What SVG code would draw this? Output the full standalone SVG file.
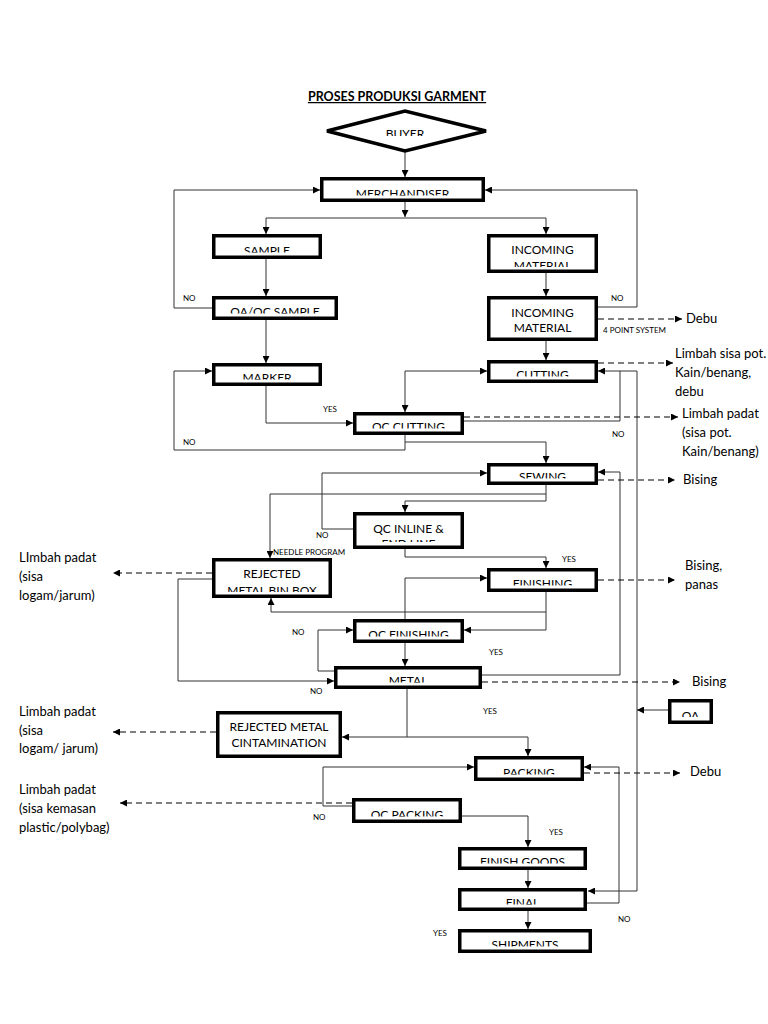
<svg xmlns="http://www.w3.org/2000/svg" width="768" height="1024" viewBox="0 0 768 1024">
<style>
.bx{fill:#fff;stroke:#000;stroke-width:3.5}
.t{font-family:Lato,"Open Sans","Liberation Sans",sans-serif;font-size:12px;fill:#000;text-anchor:middle}
.s{font-family:Lato,"Open Sans","Liberation Sans",sans-serif;font-size:8px;fill:#000}
.l{font-family:Lato,"Open Sans","Liberation Sans",sans-serif;font-size:13px;fill:#000}
.c{fill:none;stroke:#333;stroke-width:1}
.a{marker-end:url(#ah)}
.d{fill:none;stroke:#000;stroke-width:1.2;stroke-dasharray:6 4;marker-end:url(#ah)}
</style>
<defs>
<marker id="ah" viewBox="0 0 10 10" refX="10" refY="5" markerWidth="7" markerHeight="7" markerUnits="userSpaceOnUse" orient="auto-start-reverse"><path d="M0,0 L10,5 L0,10 z" fill="#000"/></marker>
<clipPath id="cBuyer"><rect x="320" y="105" width="170" height="31"/></clipPath>
<clipPath id="cMerch"><rect x="320" y="177" width="165" height="18.5"/></clipPath>
<clipPath id="cSample"><rect x="212" y="234" width="110" height="18.5"/></clipPath>
<clipPath id="cInc1"><rect x="487" y="234" width="111" height="33"/></clipPath>
<clipPath id="cQaqc"><rect x="212" y="296" width="126" height="17.5"/></clipPath>
<clipPath id="cMarker"><rect x="212" y="363" width="110" height="16.5"/></clipPath>
<clipPath id="cCutting"><rect x="487" y="360" width="111" height="16.5"/></clipPath>
<clipPath id="cQcCut"><rect x="353" y="412" width="111" height="16.5"/></clipPath>
<clipPath id="cSewing"><rect x="487" y="463" width="111" height="15.5"/></clipPath>
<clipPath id="cInline"><rect x="353" y="512" width="111" height="30"/></clipPath>
<clipPath id="cFinishing"><rect x="487" y="568" width="111" height="17.5"/></clipPath>
<clipPath id="cBin"><rect x="212" y="558" width="120" height="34"/></clipPath>
<clipPath id="cQcFin"><rect x="353" y="619" width="111" height="17.5"/></clipPath>
<clipPath id="cMetal"><rect x="334" y="666" width="148" height="16.5"/></clipPath>
<clipPath id="cQa"><rect x="668" y="699" width="45" height="18"/></clipPath>
<clipPath id="cPacking"><rect x="474" y="756" width="110" height="18.5"/></clipPath>
<clipPath id="cQcPack"><rect x="352" y="798" width="110" height="18.5"/></clipPath>
<clipPath id="cFG"><rect x="458" y="847" width="129" height="16.5"/></clipPath>
<clipPath id="cFinal"><rect x="458" y="888" width="129" height="16.5"/></clipPath>
<clipPath id="cShip"><rect x="458" y="929" width="134" height="17.5"/></clipPath>
</defs>
<rect width="768" height="1024" fill="#fff"/>

<text x="397" y="101" font-family="Lato,'Open Sans','Liberation Sans',sans-serif" font-size="12.5" font-weight="bold" text-anchor="middle" text-decoration="underline">PROSES PRODUKSI GARMENT </text>

<g id="connectors">
<path class="c a" d="M405,152 V177"/>
<path class="c a" d="M405,202 V217"/>
<path class="c" d="M266,218 H546"/>
<path class="c a" d="M266,218 V234"/>
<path class="c a" d="M546,218 V234"/>
<path class="c a" d="M266,259 V296"/>
<path class="c a" d="M212,308 H174 V190 H320"/>
<path class="c a" d="M546,273 V296"/>
<path class="c a" d="M598,307 H637 V190 H485"/>
<path class="c a" d="M266,320 V363"/>
<path class="c a" d="M546,341 V360"/>
<path class="c a" d="M266,386 V423 H353"/>
<path class="c a" d="M405,412 V371 H487" style="marker-start:url(#ah)"/>
<path class="c a" d="M464,421 H620 V371 H598"/>
<path class="c a" d="M620,371 H637 V891 H588"/>
<path class="c a" d="M405,435 V450 H174 V371 H212"/>
<path class="c a" d="M405,442 H546 V463"/>
<path class="c a" d="M546,485 V501 H405 V512"/>
<path class="c a" d="M546,494 H270 V558"/>
<path class="c a" d="M353,529 H322 V473 H487"/>
<path class="c a" d="M405,549 V557 H546 V568"/>
<path class="c a" d="M546,592 V630 H464"/>
<path class="c a" d="M546,612 H271 V598"/>
<path class="c a" d="M405,619 V578 H487"/>
<path class="c a" d="M334,671 H318 V630 H353"/>
<path class="c a" d="M405,643 V666"/>
<path class="c a" d="M212,579 H178 V681 H334"/>
<path class="c a" d="M482,675 H620 V472 H598"/>
<path class="c a" d="M407,689 V737 H528 V756"/>
<path class="c a" d="M407,737 H342"/>
<path class="c a" d="M668,710 H637"/>
<path class="c a" d="M352,806 H323 V767 H474"/>
<path class="c a" d="M462,816 H528 V847"/>
<path class="c a" d="M587,903 H619 V767 H584"/>
<path class="c a" d="M528,870 V888"/>
<path class="c a" d="M528,911 V929"/>
<path class="d" d="M598,319 H682"/>
<path class="d" d="M598,363 H673"/>
<path class="d" d="M464,417 H678"/>
<path class="d" d="M598,480 H675"/>
<path class="d" d="M598,580 H675"/>
<path class="d" d="M482,682 H680"/>
<path class="d" d="M584,773 H680"/>
<path class="d" d="M212,573 H113"/>
<path class="d" d="M216,732 H113"/>
<path class="d" d="M352,803 H120"/>
</g>

<g id="buyer"><polygon class="bx" points="327,131 405,111 486,131 405,151"/><text class="t" x="405" y="138" clip-path="url(#cBuyer)">BUYER</text></g>
<g id="merchandiser"><rect class="bx" x="321.75" y="178.75" width="161.5" height="21.5"/><text class="t" x="402.5" y="197.5" clip-path="url(#cMerch)">MERCHANDISER</text></g>
<g id="sample"><rect class="bx" x="213.75" y="235.75" width="106.5" height="21.5"/><text class="t" x="267" y="254.5" clip-path="url(#cSample)">SAMPLE</text></g>
<g id="incoming1"><rect class="bx" x="488.75" y="235.75" width="107.5" height="35.5"/><text class="t" x="542.5" y="254" clip-path="url(#cInc1)">INCOMING</text><text class="t" x="542.5" y="270" clip-path="url(#cInc1)">MATERIAL</text></g>
<g id="qaqc-sample"><rect class="bx" x="213.75" y="297.75" width="122.5" height="20.5"/><text class="t" x="275" y="315.5" clip-path="url(#cQaqc)">QA/QC SAMPLE</text></g>
<g id="incoming2"><rect class="bx" x="488.75" y="297.75" width="107.5" height="41.5"/><text class="t" x="542.5" y="316.5">INCOMING</text><text class="t" x="542.5" y="332">MATERIAL</text></g>
<g id="marker"><rect class="bx" x="213.75" y="364.75" width="106.5" height="19.5"/><text class="t" x="267" y="381.5" clip-path="url(#cMarker)">MARKER</text></g>
<g id="cutting"><rect class="bx" x="488.75" y="361.75" width="107.5" height="19.5"/><text class="t" x="542.5" y="378.5" clip-path="url(#cCutting)">CUTTING</text></g>
<g id="qc-cutting"><rect class="bx" x="354.75" y="413.75" width="107.5" height="19.5"/><text class="t" x="408.5" y="430.5" clip-path="url(#cQcCut)">QC CUTTING</text></g>
<g id="sewing"><rect class="bx" x="488.75" y="464.75" width="107.5" height="18.5"/><text class="t" x="542.5" y="480.5" clip-path="url(#cSewing)">SEWING</text></g>
<g id="qc-inline"><rect class="bx" x="354.75" y="513.75" width="107.5" height="33.5"/><text class="t" x="408.5" y="533">QC INLINE &amp;</text><text class="t" x="408.5" y="548" clip-path="url(#cInline)">END LINE</text></g>
<g id="finishing"><rect class="bx" x="488.75" y="569.75" width="107.5" height="20.5"/><text class="t" x="542.5" y="587.5" clip-path="url(#cFinishing)">FINISHING</text></g>
<g id="rejected-bin"><rect class="bx" x="213.75" y="559.75" width="116.5" height="36.5"/><text class="t" x="272" y="578">REJECTED</text><text class="t" x="272" y="594.5" clip-path="url(#cBin)">METAL BIN BOX</text></g>
<g id="qc-finishing"><rect class="bx" x="354.75" y="620.75" width="107.5" height="20.5"/><text class="t" x="408.5" y="638.5" clip-path="url(#cQcFin)">QC FINISHING</text></g>
<g id="metal"><rect class="bx" x="335.75" y="667.75" width="144.5" height="19.5"/><text class="t" x="408" y="684.5" clip-path="url(#cMetal)">METAL</text></g>
<g id="rejected-contamination"><rect class="bx" x="217.75" y="712.75" width="122.5" height="43.5"/><text class="t" x="279" y="731">REJECTED METAL</text><text class="t" x="279" y="747">CINTAMINATION</text></g>
<g id="qa"><rect class="bx" x="669.75" y="700.75" width="41.5" height="21.5"/><text class="t" x="690.5" y="720" clip-path="url(#cQa)">QA</text></g>
<g id="packing"><rect class="bx" x="475.75" y="757.75" width="106.5" height="21.5"/><text class="t" x="529" y="776.5" clip-path="url(#cPacking)">PACKING</text></g>
<g id="qc-packing"><rect class="bx" x="353.75" y="799.75" width="106.5" height="21.5"/><text class="t" x="407" y="818.5" clip-path="url(#cQcPack)">QC PACKING</text></g>
<g id="finish-goods"><rect class="bx" x="459.75" y="848.75" width="125.5" height="19.5"/><text class="t" x="522.5" y="865.5" clip-path="url(#cFG)">FINISH GOODS</text></g>
<g id="final"><rect class="bx" x="459.75" y="889.75" width="125.5" height="19.5"/><text class="t" x="522.5" y="906.5" clip-path="url(#cFinal)">FINAL</text></g>
<g id="shipments"><rect class="bx" x="459.75" y="930.75" width="130.5" height="20.5"/><text class="t" x="525" y="948.5" clip-path="url(#cShip)">SHIPMENTS</text></g>

<g id="labels">
<text class="s" x="183" y="301">NO</text>
<text class="s" x="611" y="301">NO</text>
<text class="s" x="603" y="333">4 POINT SYSTEM</text>
<text class="s" x="323" y="412">YES</text>
<text class="s" x="183" y="445">NO</text>
<text class="s" x="612" y="437">NO</text>
<text class="s" x="316" y="538">NO</text>
<text class="s" x="273" y="555">NEEDLE PROGRAM</text>
<text class="s" x="562" y="562">YES</text>
<text class="s" x="292" y="635">NO</text>
<text class="s" x="489" y="655">YES</text>
<text class="s" x="310" y="694">NO</text>
<text class="s" x="483" y="714">YES</text>
<text class="s" x="313" y="820">NO</text>
<text class="s" x="549" y="835">YES</text>
<text class="s" x="618" y="922">NO</text>
<text class="s" x="433" y="936">YES</text>

<text class="l" x="686" y="323">Debu</text>
<text class="l" x="675" y="358">Limbah sisa pot.</text>
<text class="l" x="675" y="377">Kain/benang,</text>
<text class="l" x="675" y="396">debu</text>
<text class="l" x="682" y="418">Limbah padat</text>
<text class="l" x="682" y="437">(sisa pot.</text>
<text class="l" x="682" y="456">Kain/benang)</text>
<text class="l" x="683" y="484">Bising</text>
<text class="l" x="685" y="570">Bising,</text>
<text class="l" x="685" y="589">panas</text>
<text class="l" x="692" y="686">Bising</text>
<text class="l" x="690" y="776">Debu</text>
<text class="l" x="19" y="562">LImbah padat</text>
<text class="l" x="19" y="581">(sisa</text>
<text class="l" x="19" y="600">logam/jarum)</text>
<text class="l" x="19" y="716">Limbah padat</text>
<text class="l" x="19" y="735">(sisa</text>
<text class="l" x="19" y="753">logam/ jarum)</text>
<text class="l" x="19" y="794">Limbah padat</text>
<text class="l" x="19" y="813">(sisa kemasan</text>
<text class="l" x="19" y="832">plastic/polybag)</text>
</g>
</svg>
